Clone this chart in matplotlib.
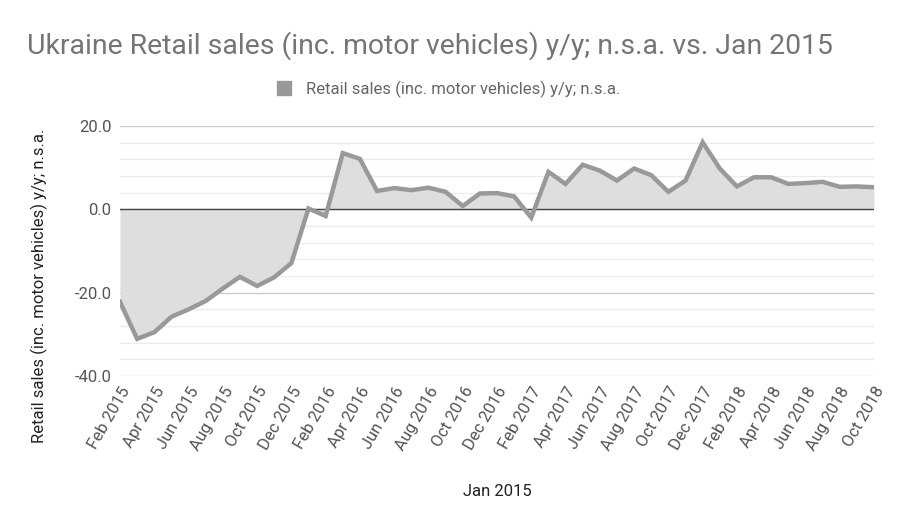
import numpy as np
import matplotlib.pyplot as plt
from matplotlib.lines import Line2D
from matplotlib.ticker import MultipleLocator

# Monthly y/y values, Feb 2015 .. Oct 2018
months = ['Jan', 'Feb', 'Mar', 'Apr', 'May', 'Jun', 'Jul', 'Aug', 'Sep', 'Oct', 'Nov', 'Dec']
dates = []
for year in range(2015, 2019):
    for m in months:
        dates.append(m + ' ' + str(year))
dates = dates[1:dates.index('Oct 2018') + 1]

retail_sales = [-22.2, -31.1, -29.5, -25.8, -24.0, -22.0, -19.0, -16.2, -18.4, -16.3, -12.9,
                0.2, -1.6, 13.5, 12.1, 4.4, 5.1, 4.6, 5.2, 4.2, 0.8, 3.8, 3.9,
                3.1, -2.0, 9.0, 6.1, 10.7, 9.3, 6.9, 9.8, 8.2, 4.2, 6.9, 16.1,
                9.8, 5.5, 7.7, 7.7, 6.1, 6.3, 6.6, 5.4, 5.5, 5.3]

series_name = 'Retail sales (inc. motor vehicles) y/y; n.s.a.'

plt.rcParams['font.family'] = ['Roboto', 'DejaVu Sans']

fig = plt.figure(figsize=(8.99, 5.28), dpi=100)
ax = fig.add_axes([120 / 899, (528 - 376) / 528, (874 - 120) / 899, (376 - 126) / 528])

x = np.arange(len(retail_sales))
ax.fill_between(x, retail_sales, 0, color='#dedede', linewidth=0, zorder=1)
ax.plot(x, retail_sales, color='#999999', linewidth=3.2, solid_joinstyle='miter', zorder=3)
ax.axhline(0, color='#444444', linewidth=1.0, zorder=2)

ax.set_xlim(0, len(retail_sales) - 1)
ax.set_ylim(-40, 20)
ax.yaxis.set_major_locator(MultipleLocator(20))
ax.yaxis.set_minor_locator(MultipleLocator(4))
ax.grid(True, which='major', axis='y', color='#cccccc', linewidth=1.0, zorder=0)
ax.grid(True, which='minor', axis='y', color='#ebebeb', linewidth=1.0, zorder=0)
ax.set_axisbelow(True)
ax.set_yticks([-40, -20, 0, 20])
ax.set_yticklabels(['-40.0', '-20.0', '0.0', '20.0'])

ax.set_xticks(x[::2])
ax.set_xticklabels(dates[::2], rotation=60, ha='right', rotation_mode='anchor')

for s in ax.spines.values():
    s.set_visible(False)
ax.tick_params(axis='both', which='both', length=0, labelsize=12, labelcolor='#555555')
ax.tick_params(axis='x', pad=6)
ax.tick_params(axis='y', pad=6)

ax.set_ylabel(series_name, fontsize=12, color='#222222')
ax.yaxis.set_label_coords((48 - 120) / 754, (376 - 286) / 250)
ax.set_xlabel('Jan 2015', fontsize=12, color='#222222', labelpad=22)

fig.text(27 / 899, 1 - 46 / 528, 'Ukraine Retail sales (inc. motor vehicles) y/y; n.s.a. vs. Jan 2015',
         fontsize=20.4, color='#757575', va='center', ha='left')

handle = Line2D([], [], linestyle='none', marker='s', markersize=10,
                markerfacecolor='#999999', markeredgecolor='#999999')
leg = fig.legend([handle], [series_name], loc='center', bbox_to_anchor=(448 / 899, 1 - 89 / 528),
                 frameon=False, fontsize=12, handlelength=1.0, handletextpad=0.8)
for txt in leg.get_texts():
    txt.set_color('#666666')

fig.savefig('out.png', dpi=100)
